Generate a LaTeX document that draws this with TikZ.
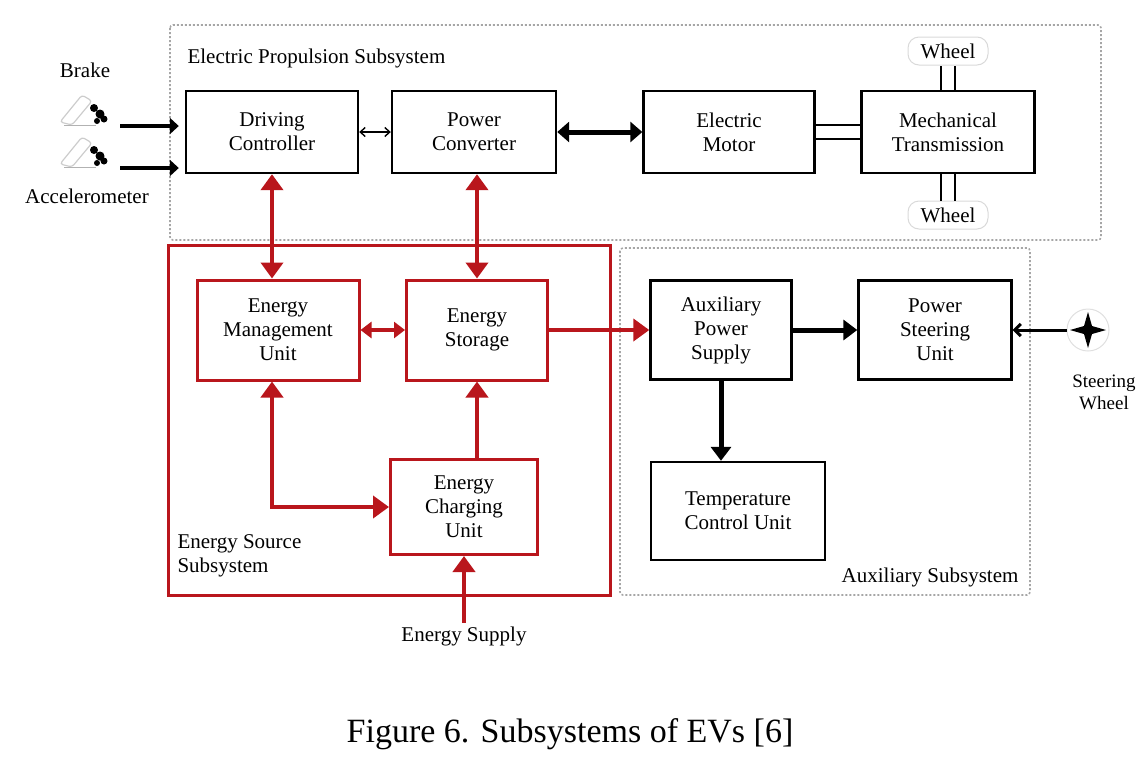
\documentclass[tikz,border=0pt]{standalone}
\usepackage{fontspec}
\setmainfont{Liberation Serif}
\usetikzlibrary{arrows.meta,shapes.geometric}
\definecolor{dred}{RGB}{185,22,28}
\begin{document}
\begin{tikzpicture}[x=1pt,y=-1pt,
  txt/.style={font=\fontsize{21}{24}\selectfont,align=center},
  blk/.style={txt,draw,line width=2.4pt,inner sep=0pt},
  rblk/.style={txt,draw=dred,line width=3pt,inner sep=0pt},
  sub/.style={draw=gray!70,line width=1.6pt,dash pattern=on 2pt off 2pt,rounded corners=3pt},
  rarr/.style={draw=dred,line width=4.5pt,-{Triangle[length=16pt,width=22pt]}},
  rdbl/.style={rarr,{Triangle[length=16pt,width=22pt]}-{Triangle[length=16pt,width=22pt]}},
  barr/.style={line width=5pt,-{Triangle[length=14pt,width=20pt]}},
  wheel/.style={txt,draw=gray!30,line width=1pt,rounded corners=11pt,minimum width=80pt,minimum height=28pt,inner sep=1pt}]
\useasboundingbox (0,0) rectangle (1144,756);
\clip (0,0) rectangle (1144,756);
% subsystem frames
\draw[sub] (170,25) rectangle (1101,240);
\draw[sub] (620,248) rectangle (1030,595);
\draw[draw=dred,line width=3pt] (168,245) rectangle (610,595);
\node[txt,anchor=west] at (184,58) {Electric Propulsion Subsystem};
\node[txt,anchor=west,align=left] at (174,556) {Energy Source\\Subsystem};
\node[txt,anchor=east] at (1022,577) {Auxiliary Subsystem};
% blocks
\node[blk,minimum width=172pt,minimum height=82pt] (dc) at (272,132) {Driving\\Controller};
\node[blk,minimum width=164pt,minimum height=82pt] (pc) at (474,132) {Power\\Converter};
\node[blk,minimum width=171pt,minimum height=82pt] (em) at (729,132) {Electric\\Motor};
\node[blk,minimum width=173pt,minimum height=82pt] (mt) at (948,132) {Mechanical\\Transmission};
\node[wheel] (w1) at (948,51) {Wheel};
\node[wheel] (w2) at (948,215) {Wheel};
\node[rblk,minimum width=162pt,minimum height=100pt] (emu) at (278,330) {Energy\\Management\\Unit};
\node[rblk,minimum width=141pt,minimum height=100pt] (es) at (477,330) {Energy\\Storage};
\node[rblk,minimum width=147pt,minimum height=95pt] (ec) at (464,507) {Energy\\Charging\\Unit};
\node[txt] (sup) at (464,636) {Energy Supply};
\node[blk,minimum width=141pt,minimum height=99pt] (aps) at (721,330) {Auxiliary\\Power\\Supply};
\node[blk,minimum width=153pt,minimum height=99pt] (psu) at (935,330) {Power\\Steering\\Unit};
\node[blk,minimum width=174pt,minimum height=98pt] (tcu) at (738,511) {Temperature\\Control Unit};
% steering wheel
\node[circle,draw=gray!25,line width=1pt,minimum size=42pt] (sw) at (1088,330) {};
\fill (sw.center) ++(0,-18) -- ++(4,14) -- ++(14,4) -- ++(-14,4) -- ++(-4,14) -- ++(-4,-14) -- ++(-14,-4) -- ++(14,-4) -- cycle;
\node[txt,font=\fontsize{19}{22}\selectfont] (swl) at (1104,392) {Steering\\Wheel};
% pedals
\node[txt] (brk) at (85,70) {Brake};
\node[txt] (acc) at (87,196) {Accelerometer};
\foreach \py/\nm in {113/p1,155/p2}{
  \draw[gray!40,line width=1.2pt,rounded corners=3pt] (60,\py+9) -- (82,\py-18) -- (92,\py-12) -- (72,\py+12) -- cycle;
  \draw[gray!60,line width=1pt] (64,\py+12) -- (96,\py+12);
  \fill (94,\py-5) circle (4) (100,\py+1) circle (4.5) (104,\py+6) circle (3.5) (97,\py+8) circle (3);
  \coordinate (\nm) at (120,\py+13);
}
\coordinate (q1) at (dc.west |- p1);
\coordinate (q2) at (dc.west |- p2);
\draw[line width=3.5pt,-{Triangle[length=9pt,width=16pt]}] (p1) -- ([xshift=-6pt]q1);
\draw[line width=3.5pt,-{Triangle[length=9pt,width=16pt]}] (p2) -- ([xshift=-6pt]q2);
% propulsion connectors
\draw[line width=1.4pt,{Straight Barb[length=5pt,width=9pt]}-{Straight Barb[length=5pt,width=9pt]}] (dc) -- (pc);
\draw[line width=5pt,{Triangle[length=12pt,width=20pt]}-{Triangle[length=12pt,width=20pt]}] (pc) -- (em);
\draw[line width=2.4pt] ([yshift=-7pt]em.east) -- ([yshift=-7pt]mt.west);
\draw[line width=2.4pt] ([yshift=7pt]em.east) -- ([yshift=7pt]mt.west);
\foreach \dx in {-7,7}{
  \draw[line width=2.4pt] ([xshift=\dx pt]mt.north) -- ([xshift=\dx pt]w1.south);
  \draw[line width=2.4pt] ([xshift=\dx pt]mt.south) -- ([xshift=\dx pt]w2.north);
}
% energy connectors
\draw[rdbl] (dc.south) -- (dc.south |- emu.north);
\draw[rdbl] (es.north) -- (es.north |- pc.south);
\draw[draw=dred,line width=4pt,{Triangle[length=11pt,width=16pt]}-{Triangle[length=11pt,width=16pt]}] (emu) -- (es);
\draw[rarr] (es) -- (aps);
\draw[rdbl] (emu.south -| dc.south) |- (ec.west);
\draw[rarr] (ec.north -| es.south) -- (es.south);
\draw[rarr] (sup.north) -- (ec.south);
% auxiliary connectors
\draw[barr] (aps) -- (psu);
\draw[barr] (aps.south) -- (aps.south |- tcu.north);
\draw[line width=3pt,-{Straight Barb[length=6pt,width=12pt]}] (sw.west) -- (psu.east);
% caption
\node[font=\fontsize{34}{40}\selectfont] (cap) at (570,734) {Figure 6. Subsystems of EVs [6]};
\end{tikzpicture}
\end{document}
